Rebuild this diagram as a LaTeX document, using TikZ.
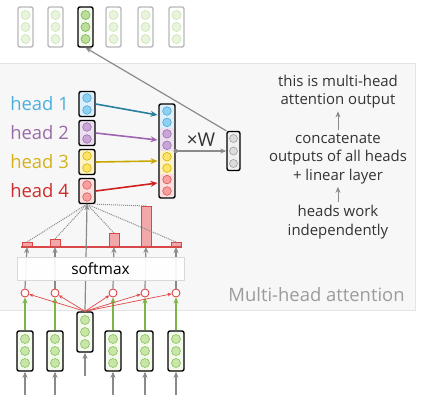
\documentclass[tikz,border=0pt]{standalone}
\usepackage{fontspec}
\setmainfont{Open Sans}
\usetikzlibrary{arrows.meta}
\definecolor{panelbg}{HTML}{F7F7F7}
\definecolor{panelline}{HTML}{E4E4E4}
\definecolor{arrgray}{HTML}{8A8A8A}
\definecolor{gfill}{HTML}{C8E6A8}
\definecolor{gdraw}{HTML}{86C25A}
\definecolor{vfill}{HTML}{F3F9EC}
\definecolor{ffill}{HTML}{E8F4DC}
\definecolor{fdraw}{HTML}{C9E3B2}
\definecolor{fbox}{HTML}{B8B8B8}
\definecolor{greenarr}{HTML}{7DB547}
\definecolor{redc}{HTML}{E04848}
\definecolor{barfill}{HTML}{F2A8A8}
\definecolor{barline}{HTML}{D84848}
\definecolor{hAbox}{HTML}{DCEFFA}\definecolor{hAf}{HTML}{8FD0F0}\definecolor{hAd}{HTML}{4AA8D8}
\definecolor{hBbox}{HTML}{ECE0F0}\definecolor{hBf}{HTML}{C9A6D6}\definecolor{hBd}{HTML}{9A6EB0}
\definecolor{hCbox}{HTML}{FDF3C8}\definecolor{hCf}{HTML}{FDE36A}\definecolor{hCd}{HTML}{D4B300}
\definecolor{hDbox}{HTML}{FBDEDE}\definecolor{hDf}{HTML}{F7A0A0}\definecolor{hDd}{HTML}{E05555}
\definecolor{hAt}{HTML}{4BB0E0}\definecolor{hBt}{HTML}{9B6AA8}\definecolor{hCt}{HTML}{D4B21A}\definecolor{hDt}{HTML}{CC2B2B}
\definecolor{hAa}{HTML}{2A7F9E}\definecolor{hBa}{HTML}{A065B0}\definecolor{hCa}{HTML}{C9A800}\definecolor{hDa}{HTML}{D02020}
\definecolor{txt}{HTML}{333333}
\definecolor{odot}{HTML}{DCDCDC}\definecolor{odraw}{HTML}{A0A0A0}
\begin{document}
\begin{tikzpicture}[x=1bp,y=-1bp,
  vec/.style={draw=black, line width=1.4bp, rounded corners=2bp, minimum width=16bp, minimum height=40bp, inner sep=0pt, fill=vfill},
  fvec/.style={draw=fbox, line width=1.4bp, rounded corners=2bp, minimum width=15bp, minimum height=40bp, inner sep=0pt, fill=white},
  hbox/.style={draw=black, line width=1.4bp, rounded corners=2bp, minimum width=16bp, minimum height=25bp, inner sep=0pt},
  gdot/.style={fill=gfill, draw=gdraw, line width=0.6bp},
  fdot/.style={fill=ffill, draw=fdraw, line width=0.6bp},
  rdot/.style={circle, draw=redc, fill=white, line width=0.9bp, minimum size=8bp, inner sep=0pt},
  garrow/.style={draw=arrgray, line width=1.2bp, -{Stealth[length=6bp,width=5bp]}},
  grarrow/.style={draw=greenarr, line width=1.8bp, -{Stealth[length=6bp,width=5bp]}},
  rarrow/.style={draw=redc, line width=0.7bp, -{Stealth[length=4bp,width=3.5bp]}},
  dline/.style={draw=arrgray, line width=1bp, densely dotted},
  rtext/.style={align=center, text=txt, inner sep=1pt, font=\fontsize{15}{18.5}\selectfont},
  hlab/.style={anchor=east, inner sep=0pt, font=\fontsize{18.5}{18.5}\selectfont}]
\useasboundingbox (0,0) rectangle (431,405);
% panel
\draw[draw=panelline, fill=panelbg, line width=0.8bp] (-2,63) rectangle (415,310);
\node[text=arrgray!85, inner sep=0pt, font=\fontsize{18.5}{18.5}\selectfont] (mha) at (316.5,295) {Multi-head attention};
% top vectors
\foreach \n/\x in {t1/25.5,t2/55.5,t4/113.5,t5/145.5,t6/176.5}{
  \node[fvec] (\n) at (\x,27) {};
  \foreach \k in {-12,0,12} \draw[fdot] (\x,{27+(\k)}) circle[radius=4.5bp];
}
\node[vec, minimum width=15bp, fill=vfill] (t3) at (85.5,27) {};
\foreach \k in {-12,0,12} \draw[fill=gfill!80!gdraw, draw=gdraw!90!black, line width=0.6bp] (85.5,{27+(\k)}) circle[radius=4.5bp];
% bottom vectors
\foreach \n/\x/\y in {b1/25/351,b2/55/351,b3/85/332,b4/113/351,b5/145/351,b6/176/351}{
  \node[vec] (\n) at (\x,\y) {};
  \foreach \k in {-12,0,12} \draw[gdot] (\x,{\y+(\k)}) circle[radius=4.5bp];
}
\foreach \n/\x/\y in {u1/25/395,u2/55/395,u3/85/376,u4/113/395,u5/145/395,u6/176/395}
  \coordinate (\n) at (\x,\y);
\foreach \i in {1,...,6} \draw[garrow] (u\i) -- (b\i.south);
% red circles
\foreach \n/\x in {r1/25,r2/55,r3/113,r4/145,r5/176}
  \node[rdot] (\n) at (\x,293) {};
\foreach \i/\j in {b1/r1,b2/r2,b4/r3,b5/r4,b6/r5} \draw[grarrow] (\i.north) -- (\j.south);
\foreach \j in {r1,r2,r3,r4,r5} \draw[rarrow] (b3.north) -- (\j);
% bars
\foreach \n/\x/\t in {q1/27/242,q2/55/239,q3/114/233,q4/146/206,q5/176/242}{
  \coordinate (\n) at (\x,247);
  \coordinate (\n top) at (\x,\t);
  \draw[fill=barfill, draw=barline, line width=0.8bp] ({\x-5},247) rectangle ({\x+5},\t);
}
\draw[barline, line width=1.4bp] (21,247) -- (182,247);
\foreach \i/\j in {r1/q1,r2/q2,r3/q3,r4/q4,r5/q5} \draw[garrow] (\i.north) -- (\j);
% head boxes
\foreach \n/\y/\c in {h1/104/hA,h2/133/hB,h3/162/hC,h4/191/hD}{
  \node[hbox, fill=\c box] (\n) at (87,\y) {};
  \foreach \k in {-6,6} \draw[fill=\c f, draw=\c d, line width=0.6bp] (87,{\y+(\k)}) circle[radius=4.3bp];
}
% vertical line from query to head 4
\draw[garrow] (b3.north) -- (h4.south);
% softmax
\node[draw=black!15, fill=white, fill opacity=0.92, text opacity=1, minimum width=167bp, minimum height=23bp, inner sep=0pt, font=\fontsize{15.5}{15.5}\selectfont] (sm) at (100.5,268.5) {softmax};
% dotted lines
\draw[dline] (q1top) -- (h4.south);
\draw[dline] (q2top) -- (h4.south);
\draw[dline] (q3top) -- (h4.south);
\draw[dline] (q4top) -- (h4.south east);
\draw[dline] (q5top) -- (h4.south);
% head labels
\node[hlab, text=hAt] (l1) at (69,104) {head 1};
\node[hlab, text=hBt] (l2) at (69,133) {head 2};
\node[hlab, text=hCt] (l3) at (69,162) {head 3};
\node[hlab, text=hDt] (l4) at (69,191) {head 4};
% concat vector
\fill[hAbox] (159.7,104.7) rectangle (174.3,127.5);
\fill[hBbox] (159.7,127.5) rectangle (174.3,150.5);
\fill[hCbox] (159.7,150.5) rectangle (174.3,174);
\fill[hDbox] (159.7,174) rectangle (174.3,197.3);
\node[draw=black, line width=1.4bp, rounded corners=2bp, minimum width=16bp, minimum height=94bp, inner sep=0pt] (c) at (167,151) {};
\foreach \k/\c in {0/hA,1/hA,2/hB,3/hB,4/hC,5/hC,6/hD,7/hD}
  \draw[fill=\c f, draw=\c d, line width=0.6bp] (167,{111+11.43*\k}) circle[radius=4.3bp];
\coordinate (c1) at (157.5,115);
\coordinate (c2) at (157.5,140);
\coordinate (c3) at (157.5,161);
\coordinate (c4) at (157.5,183);
\foreach \i/\c in {1/hAa,2/hBa,3/hCa,4/hDa}
  \draw[draw=\c, line width=1.6bp, -{Stealth[length=7bp,width=6bp]}] (h\i.east) -- (c\i);
% output vector
\node[draw=black, line width=1.4bp, rounded corners=2bp, minimum width=13bp, minimum height=39bp, inner sep=0pt, fill=black!6] (o) at (233.5,151) {};
\foreach \k in {-12.5,0,12.5} \draw[fill=odot, draw=odraw, line width=0.6bp] (233.5,{151+(\k)}) circle[radius=4bp];
\fill[arrgray] (c.east) circle[radius=2.2bp];
\draw[garrow] (c.east) -- node[above=1bp, text=black!80, font=\fontsize{19}{19}\selectfont] (xw) {×W} (o.west);
\draw[garrow] (o.north west) -- (t3.south);
% right texts
\node[rtext] (tx1) at (338,91.5) {this is multi-head\\attention output};
\node[rtext] (tx2) at (338,158.5) {concatenate\\outputs of all heads\\+ linear layer};
\node[rtext] (tx3) at (338,222) {heads work\\independently};
\draw[garrow, line width=1bp, shorten >=2bp, shorten <=2bp] (tx2.north) -- (tx1.south);
\draw[garrow, line width=1bp, shorten >=2bp, shorten <=2bp] (tx3.north) -- (tx2.south);
\end{tikzpicture}
\end{document}
